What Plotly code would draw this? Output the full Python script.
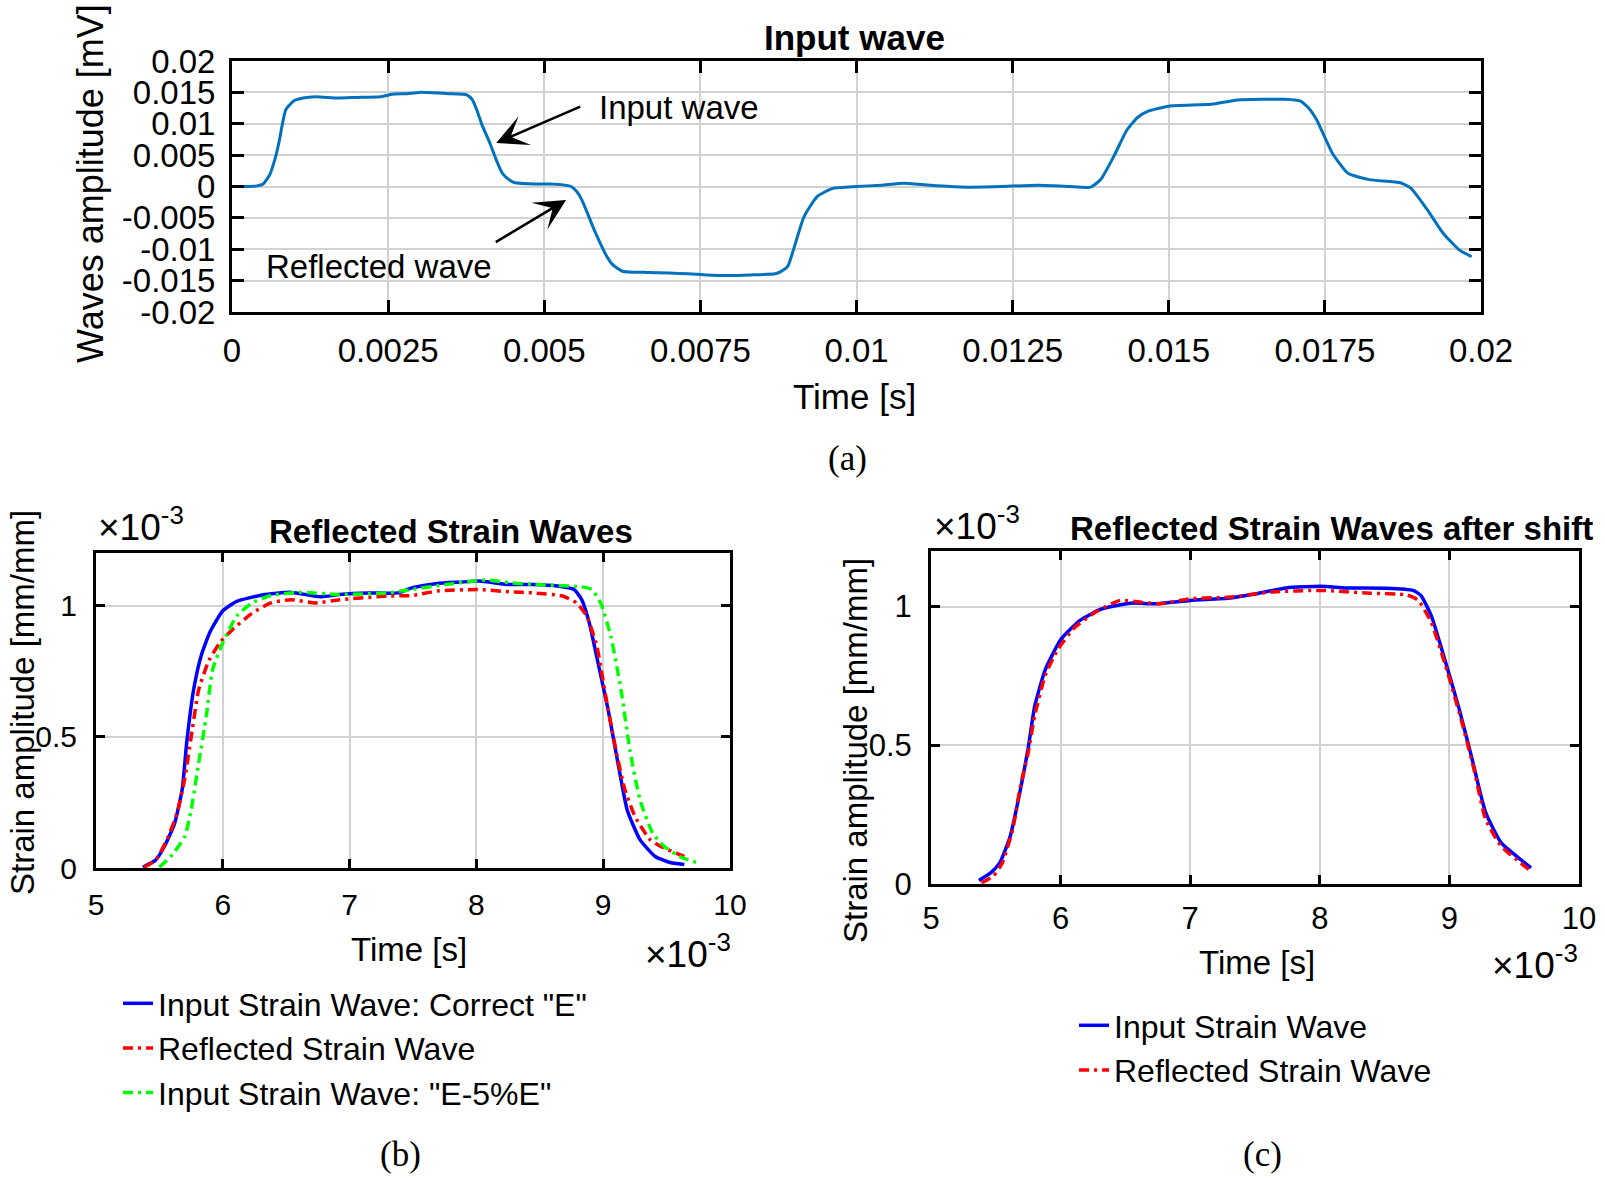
import plotly.graph_objects as go

W, H = 1605, 1178

# ---------------- Panel (a): input wave ----------------
t_a = [0, 0.0002, 0.0004, 0.0005, 0.0006, 0.0007, 0.00076, 0.0008, 0.00086, 0.00095,
       0.00102, 0.0012, 0.00135, 0.0017, 0.002, 0.00237, 0.00257, 0.0028, 0.003, 0.0033,
       0.00347, 0.00376, 0.00385, 0.00392, 0.004, 0.00413, 0.00425, 0.00433, 0.00445, 0.00453,
       0.00486, 0.0051, 0.00527, 0.00543, 0.00552, 0.0056, 0.0058, 0.006, 0.0061, 0.00625,
       0.00666, 0.007, 0.00731, 0.0076, 0.00797, 0.0083, 0.0087, 0.00878, 0.0089, 0.00899,
       0.00916, 0.00937, 0.00962, 0.01, 0.0104, 0.01076, 0.0113, 0.01177, 0.0123, 0.0129,
       0.0134, 0.01375, 0.01391, 0.01412, 0.01433, 0.0145, 0.01467, 0.015, 0.01568, 0.0161,
       0.01686, 0.01711, 0.01725, 0.01737, 0.01762, 0.01787, 0.01821, 0.01871, 0.01888, 0.01914,
       0.01939, 0.01965, 0.01985]
amp_a = [0.0, 0.0, 0.0001, 0.0004, 0.0018, 0.0048, 0.0074, 0.0096, 0.0122, 0.0133,
         0.0138, 0.0142, 0.0143, 0.0141, 0.0142, 0.0143, 0.0147, 0.0148, 0.0150, 0.0149,
         0.0148, 0.0146, 0.0138, 0.0122, 0.0099, 0.0069, 0.0038, 0.0021, 0.0010, 0.0006,
         0.0004, 0.0004, 0.0003, 0.0000, -0.0008, -0.0021, -0.0069, -0.0111, -0.0125, -0.0135,
         -0.0137, -0.0138, -0.0139, -0.0141, -0.0142, -0.0141, -0.0139, -0.0136, -0.0127, -0.0101,
         -0.0048, -0.0016, -0.0003, 0.0, 0.0002, 0.0005, 0.0001, -0.0001, 0.0, 0.0002,
         0.0, -0.0001, 0.0011, 0.0048, 0.0090, 0.0110, 0.0120, 0.0128, 0.0131, 0.0138,
         0.0139, 0.0136, 0.0124, 0.0106, 0.0053, 0.0021, 0.0011, 0.0006, -0.0003, -0.0037,
         -0.0074, -0.0101, -0.0112]
a_xticks = [0, 0.0025, 0.005, 0.0075, 0.01, 0.0125, 0.015, 0.0175, 0.02]
a_xticklabels = ["0", "0.0025", "0.005", "0.0075", "0.01", "0.0125", "0.015", "0.0175", "0.02"]
a_yticks = [0.02, 0.015, 0.01, 0.005, 0, -0.005, -0.01, -0.015, -0.02]
a_yticklabels = ["0.02", "0.015", "0.01", "0.005", "0", "-0.005", "-0.01", "-0.015", "-0.02"]

# ---------------- Panel (b): reflected strain waves (x in 1e-3 s, y in 1e-3) ----------------
b_blue_t = [5.37, 5.47, 5.54, 5.62, 5.68, 5.715, 5.77, 5.83, 5.90, 6.0, 6.11, 6.31, 6.54, 6.77,
            6.92, 7.15, 7.38, 7.49, 7.69, 7.87, 8.02, 8.26, 8.45, 8.64, 8.77, 8.83, 8.89, 8.96,
            9.04, 9.12, 9.19, 9.29, 9.41, 9.52, 9.64]
b_blue_v = [0.003, 0.03, 0.083, 0.17, 0.30, 0.476, 0.68, 0.81, 0.90, 0.98, 1.016, 1.04, 1.05, 1.033,
            1.042, 1.048, 1.048, 1.067, 1.084, 1.089, 1.093, 1.080, 1.080, 1.074, 1.061, 1.023, 0.934, 0.78,
            0.60, 0.39, 0.22, 0.108, 0.044, 0.022, 0.013]
b_red_t = [5.38, 5.47, 5.56, 5.64, 5.70, 5.76, 5.81, 5.89, 5.98, 6.08, 6.23, 6.38, 6.54, 6.73,
           6.92, 7.30, 7.49, 7.69, 8.01, 8.26, 8.45, 8.68, 8.79, 8.87, 8.95, 9.02, 9.10, 9.17,
           9.25, 9.37, 9.48, 9.64]
b_red_v = [0.003, 0.03, 0.108, 0.21, 0.34, 0.53, 0.68, 0.79, 0.86, 0.91, 0.97, 1.01, 1.022, 1.01,
           1.022, 1.036, 1.038, 1.055, 1.061, 1.052, 1.048, 1.036, 1.010, 0.96, 0.845, 0.654, 0.45, 0.30,
           0.197, 0.108, 0.076, 0.044]
b_green_t = [5.50, 5.60, 5.70, 5.75, 5.81, 5.87, 5.92, 6.0, 6.11, 6.23, 6.38, 6.61, 6.92, 7.30,
             7.49, 7.76, 8.07, 8.26, 8.45, 8.83, 8.91, 8.98, 9.06, 9.14, 9.21, 9.29, 9.39, 9.48,
             9.60, 9.75]
b_green_v = [0.003, 0.05, 0.12, 0.22, 0.40, 0.58, 0.756, 0.858, 0.96, 1.01, 1.038, 1.05, 1.042, 1.048,
             1.061, 1.080, 1.097, 1.087, 1.080, 1.071, 1.061, 1.010, 0.883, 0.68, 0.45, 0.26, 0.133, 0.083,
             0.044, 0.019]

# ---------------- Panel (c): after shift ----------------
c_blue_t = [5.37, 5.46, 5.53, 5.61, 5.69, 5.75, 5.80, 5.88, 6.0, 6.15, 6.31, 6.54, 6.73, 7.0,
            7.31, 7.51, 7.74, 8.01, 8.20, 8.51, 8.72, 8.78, 8.86, 8.97, 9.07, 9.17, 9.28, 9.40,
            9.55, 9.63]
c_blue_v = [0.013, 0.040, 0.076, 0.17, 0.34, 0.49, 0.64, 0.77, 0.88, 0.95, 0.99, 1.012, 1.010, 1.022,
            1.031, 1.046, 1.067, 1.073, 1.067, 1.066, 1.058, 1.040, 0.967, 0.80, 0.64, 0.46, 0.257, 0.148,
            0.088, 0.058]
c_red_t = [5.39, 5.48, 5.55, 5.63, 5.69, 5.75, 5.80, 5.88, 5.98, 6.11, 6.27, 6.46, 6.61, 6.77,
           7.0, 7.31, 7.62, 8.01, 8.39, 8.67, 8.76, 8.86, 8.97, 9.09, 9.19, 9.28, 9.40, 9.55, 9.63]
c_red_v = [0.004, 0.028, 0.076, 0.196, 0.353, 0.473, 0.606, 0.75, 0.847, 0.925, 0.98, 1.022, 1.016, 1.010,
           1.028, 1.034, 1.052, 1.058, 1.048, 1.042, 1.022, 0.943, 0.787, 0.594, 0.413, 0.232, 0.136, 0.076,
           0.046]
bc_xticks = [5, 6, 7, 8, 9, 10]
bc_yticks = [0, 0.5, 1]
bc_yticklabels = ["0", "0.5", "1"]

names_b = ['Input Strain Wave: Correct "E"', 'Reflected Strain Wave', 'Input Strain Wave: "E-5%E"']
names_c = ['Input Strain Wave', 'Reflected Strain Wave']

SANS = "Liberation Sans, Arial, Helvetica, sans-serif"
SERIF = "Liberation Serif, Times New Roman, serif"
DASHDOT = "10px,5px,3px,5px"


def px(x):
    return x / W


def py(y):
    return 1 - y / H


fig = go.Figure()
fig.add_trace(go.Scatter(x=t_a, y=amp_a, mode="lines", line=dict(color="#0072BD", width=3, shape="spline", smoothing=0.5),
                         xaxis="x", yaxis="y", showlegend=False))
fig.add_trace(go.Scatter(x=b_blue_t, y=b_blue_v, mode="lines", name=names_b[0],
                         line=dict(color="#0000FF", width=3.5, shape="spline", smoothing=0.5),
                         xaxis="x2", yaxis="y2", legend="legend"))
fig.add_trace(go.Scatter(x=b_red_t, y=b_red_v, mode="lines", name=names_b[1],
                         line=dict(color="#FF0000", width=3.5, dash=DASHDOT, shape="spline", smoothing=0.5),
                         xaxis="x2", yaxis="y2", legend="legend"))
fig.add_trace(go.Scatter(x=b_green_t, y=b_green_v, mode="lines", name=names_b[2],
                         line=dict(color="#00FF00", width=3.5, dash=DASHDOT, shape="spline", smoothing=0.5),
                         xaxis="x2", yaxis="y2", legend="legend"))
fig.add_trace(go.Scatter(x=c_blue_t, y=c_blue_v, mode="lines", name=names_c[0],
                         line=dict(color="#0000FF", width=3.5, shape="spline", smoothing=0.5),
                         xaxis="x3", yaxis="y3", legend="legend2"))
fig.add_trace(go.Scatter(x=c_red_t, y=c_red_v, mode="lines", name=names_c[1],
                         line=dict(color="#FF0000", width=3.5, dash=DASHDOT, shape="spline", smoothing=0.5),
                         xaxis="x3", yaxis="y3", legend="legend2"))

axis_common = dict(showline=True, linecolor="black", linewidth=3, mirror="ticks", ticks="inside",
                   tickcolor="black", tickwidth=3, showgrid=True, gridcolor="#d2d2d2", gridwidth=2,
                   zeroline=False, automargin=False, tickfont=dict(family=SANS, color="black"))

# domains (pixel boxes -> paper)
A = (232, 1481, 61, 312)
B = (96, 730, 553, 868)
C = (931, 1579, 551, 884)

fig.update_layout(
    width=W, height=H, margin=dict(l=0, r=0, t=0, b=0, autoexpand=False),
    paper_bgcolor="white", plot_bgcolor="white",
    xaxis=dict(axis_common, domain=[px(A[0]), px(A[1])], range=[0, 0.02], tickvals=a_xticks,
               ticktext=a_xticklabels, ticklen=12, tickfont=dict(family=SANS, size=33, color="black"),
               anchor="y", ticklabelstandoff=7),
    yaxis=dict(axis_common, domain=[py(A[3]), py(A[2])], range=[-0.02, 0.02], tickvals=a_yticks,
               ticktext=a_yticklabels, ticklen=12, tickfont=dict(family=SANS, size=33, color="black"),
               anchor="x", ticklabelstandoff=7),
    xaxis2=dict(axis_common, domain=[px(B[0]), px(B[1])], range=[5, 10], tickvals=bc_xticks,
                ticklen=9, tickfont=dict(family=SANS, size=30, color="black"), anchor="y2", ticklabelstandoff=8),
    yaxis2=dict(axis_common, domain=[py(B[3]), py(B[2])], range=[0, 1.2], tickvals=bc_yticks,
                ticktext=bc_yticklabels, ticklen=9, tickfont=dict(family=SANS, size=30, color="black"),
                anchor="x2", ticklabelstandoff=10),
    xaxis3=dict(axis_common, domain=[px(C[0]), px(C[1])], range=[5, 10], tickvals=bc_xticks,
                ticklen=9, tickfont=dict(family=SANS, size=31, color="black"), anchor="y3", ticklabelstandoff=5),
    yaxis3=dict(axis_common, domain=[py(C[3]), py(C[2])], range=[0, 1.2], tickvals=bc_yticks,
                ticktext=bc_yticklabels, ticklen=9, tickfont=dict(family=SANS, size=31, color="black"),
                anchor="x3", ticklabelstandoff=10),
    legend=dict(x=px(118), y=py(976), xanchor="left", yanchor="top", bgcolor="rgba(0,0,0,0)",
                font=dict(family=SANS, size=32, color="black"), itemwidth=30, tracegroupgap=0),
    legend2=dict(x=px(1074), y=py(998), xanchor="left", yanchor="top", bgcolor="rgba(0,0,0,0)",
                 font=dict(family=SANS, size=32, color="black"), itemwidth=30, tracegroupgap=0),
)

ann = []


def text(x, y, s, size, bold=False, family=SANS, xanchor="center", yanchor="middle", angle=0):
    ann.append(dict(xref="paper", yref="paper", x=px(x), y=py(y), text=("<b>%s</b>" % s) if bold else s,
                    showarrow=False, xanchor=xanchor, yanchor=yanchor, textangle=angle,
                    font=dict(family=family, size=size, color="black")))


# Panel (a) texts
text(855, 37, "Input wave", 35, bold=True)
text(855, 396, "Time [s]", 35)
text(90, 184, "Waves amplitude [mV]", 36, angle=-90)
text(847, 459, "(a)", 35, family=SERIF)
text(597, 108, "Input wave", 33, xanchor="left")
text(264, 267, "Reflected wave", 33, xanchor="left")

# Panel (b) texts
text(451, 531, "Reflected Strain Waves", 33, bold=True)
text(409, 950, "Time [s]", 33)
text(22, 703, "Strain amplitude [mm/mm]", 33, angle=-90)
text(96, 550, "\u00d710<sup>-3</sup>", 37, xanchor="left", yanchor="bottom")
text(643, 977, "\u00d710<sup>-3</sup>", 37, xanchor="left", yanchor="bottom")
text(400, 1154, "(b)", 35, family=SERIF)

# Panel (c) texts
text(1331, 528, "Reflected Strain Waves after shift", 33, bold=True)
text(1257, 962, "Time [s]", 33)
text(855, 750, "Strain amplitude [mm/mm]", 33, angle=-90)
text(932, 549, "\u00d710<sup>-3</sup>", 37, xanchor="left", yanchor="bottom")
text(1490, 988, "\u00d710<sup>-3</sup>", 37, xanchor="left", yanchor="bottom")
text(1262, 1154, "(c)", 35, family=SERIF)

# Arrows in panel (a) (data coordinates)
ann.append(dict(xref="x", yref="y", axref="x", ayref="y", x=0.00423, y=0.00693, ax=0.0056, ay=0.01283,
                text="", showarrow=True, arrowhead=3, arrowsize=2.0, arrowwidth=2.6, arrowcolor="black"))
ann.append(dict(xref="x", yref="y", axref="x", ayref="y", x=0.00535, y=-0.00215, ax=0.0042, ay=-0.0090,
                text="", showarrow=True, arrowhead=3, arrowsize=2.0, arrowwidth=2.6, arrowcolor="black"))

fig.update_layout(annotations=ann)
fig.write_html("out.html")
